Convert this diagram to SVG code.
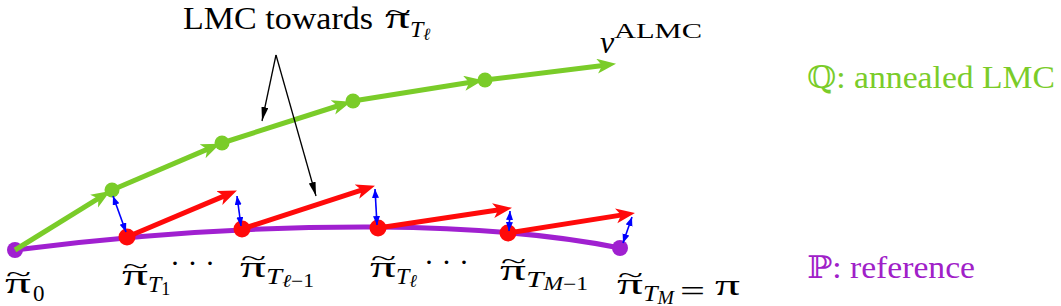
<svg xmlns="http://www.w3.org/2000/svg" width="1061" height="306" viewBox="0 0 1061 306">
<style>
.t{font-family:"Liberation Serif","DejaVu Serif",serif;fill:#000}
.m{font-family:"Liberation Serif","DejaVu Serif",serif;font-style:italic;fill:#000}
.p{font-family:"Liberation Serif","DejaVu Serif",serif;font-style:normal;fill:#000}
.tl{font-family:"Liberation Serif","DejaVu Serif",serif;fill:#000;font-size:22px}
.ds{font-family:"DejaVu Serif","DejaVu Sans",serif;font-style:normal}
.g{stroke:#7acc29;stroke-width:5;fill:none}
.r{stroke:#ff0a0a;stroke-width:5;fill:none}
.b{stroke:#0000ff;stroke-width:1.6;fill:none}
.k{stroke:#000;stroke-width:1.3;fill:none}
</style>
<defs>
<marker id="ag" markerUnits="userSpaceOnUse" markerWidth="22" markerHeight="16" refX="8" refY="7.5" orient="auto"><path d="M0,0 L19,7.5 L0,15 L5,7.5 z" fill="#7acc29"/></marker>
<marker id="ar" markerUnits="userSpaceOnUse" markerWidth="22" markerHeight="16" refX="8" refY="7.5" orient="auto"><path d="M0,0 L19,7.5 L0,15 L5,7.5 z" fill="#ff0a0a"/></marker>
<marker id="ab" markerUnits="userSpaceOnUse" markerWidth="10" markerHeight="8" refX="9" refY="3.5" orient="auto-start-reverse"><path d="M0,0 L9,3.5 L0,7 z" fill="#0000ff"/></marker>
<marker id="ak" markerUnits="userSpaceOnUse" markerWidth="16" markerHeight="8" refX="14" refY="3.5" orient="auto"><path d="M0,0 L14,3.5 L0,7 z" fill="#000"/></marker>
</defs>

<g id="reference-curve">
<path d="M15,250 Q200,226 378,227 Q520,228 620,248" stroke="#a020d0" stroke-width="5" fill="none"/>
<circle cx="15" cy="250" r="8" fill="#a020d0"/>
<circle cx="620" cy="248" r="8" fill="#a020d0"/>
</g>

<g id="connectors">
<line class="g" x1="15" y1="250" x2="100.9" y2="196.8" marker-end="url(#ag)"/>
<line class="g" x1="112" y1="190" x2="210" y2="148.1" marker-end="url(#ag)"/>
<line class="g" x1="222" y1="143" x2="340.6" y2="105" marker-end="url(#ag)"/>
<line class="g" x1="353" y1="101" x2="472.2" y2="82" marker-end="url(#ag)"/>
<line class="g" x1="485" y1="80" x2="605.1" y2="65.2" marker-end="url(#ag)"/>
<line class="r" x1="127" y1="237" x2="226.8" y2="194.9" marker-end="url(#ar)"/>
<line class="r" x1="242" y1="229" x2="364.5" y2="189.1" marker-end="url(#ar)"/>
<line class="r" x1="378" y1="228" x2="501.1" y2="209.5" marker-end="url(#ar)"/>
<line class="r" x1="508" y1="233" x2="624.1" y2="214.6" marker-end="url(#ar)"/>
</g>

<g id="green-dots" fill="#7acc29">
<circle cx="112" cy="190" r="7.5"/>
<circle cx="222" cy="143" r="7.5"/>
<circle cx="353" cy="101" r="7.5"/>
<circle cx="485" cy="80" r="7.5"/>
</g>
<g id="red-dots" fill="#ff0a0a">
<circle cx="127" cy="237" r="8.5"/>
<circle cx="242" cy="229" r="8.5"/>
<circle cx="378" cy="228" r="8.5"/>
<circle cx="508" cy="233" r="8.5"/>
</g>

<g id="coupling-arrows">
<line class="b" x1="113" y1="196" x2="126" y2="232" marker-start="url(#ab)" marker-end="url(#ab)"/>
<line class="b" x1="237" y1="196" x2="241" y2="226" marker-start="url(#ab)" marker-end="url(#ab)"/>
<line class="b" x1="375" y1="189" x2="377" y2="225" marker-start="url(#ab)" marker-end="url(#ab)"/>
<line class="b" x1="510" y1="211" x2="509" y2="231" marker-start="url(#ab)" marker-end="url(#ab)"/>
<line class="b" x1="632" y1="217" x2="623" y2="243" marker-start="url(#ab)" marker-end="url(#ab)"/>
</g>

<g id="pointers">
<line class="k" x1="276" y1="55" x2="262" y2="121" marker-end="url(#ak)"/>
<line class="k" x1="276" y1="55" x2="316" y2="196" marker-end="url(#ak)"/>
</g>

<g id="title">
<text class="t" x="183" y="29" font-size="31" textLength="190" lengthAdjust="spacingAndGlyphs">LMC towards</text>
<text class="tl" x="386" y="19" textLength="25" lengthAdjust="spacingAndGlyphs">~</text>
<text class="p" x="385" y="28" font-size="30" textLength="25" lengthAdjust="spacingAndGlyphs">π</text>
<text class="m" x="410" y="37" font-size="24">T<tspan font-size="17" dy="3">ℓ</tspan></text>
</g>

<g id="nu-label">
<text class="m" x="600" y="53" font-size="32">ν</text>
<text class="t" x="614" y="38" font-size="21" textLength="88" lengthAdjust="spacingAndGlyphs">ALMC</text>
</g>

<g id="legend-Q">
<text class="t" x="807" y="88" font-size="31" style="fill:#7acc29" textLength="248" lengthAdjust="spacingAndGlyphs"><tspan class="ds">ℚ</tspan>: annealed LMC</text>
</g>
<g id="legend-P">
<text class="t" x="807" y="278" font-size="31" style="fill:#a020c8" textLength="168" lengthAdjust="spacingAndGlyphs"><tspan class="ds">ℙ</tspan>: reference</text>
</g>

<g id="label-pi0">
<text class="tl" x="6" y="281" textLength="25" lengthAdjust="spacingAndGlyphs">~</text>
<text class="p" x="5" y="293" font-size="30" textLength="26" lengthAdjust="spacingAndGlyphs">π</text>
<text class="t" x="33" y="301" font-size="23">0</text>
</g>
<g id="label-piT1">
<text class="tl" x="123" y="273" textLength="25" lengthAdjust="spacingAndGlyphs">~</text>
<text class="p" x="122" y="285" font-size="30" textLength="26" lengthAdjust="spacingAndGlyphs">π</text>
<text class="m" x="148" y="292" font-size="24">T<tspan class="t" font-style="normal" font-size="18" dy="3">1</tspan></text>
<text class="t" x="170" y="273" font-size="30">· · ·</text>
</g>
<g id="label-piTl-1">
<text class="tl" x="241" y="265" textLength="25" lengthAdjust="spacingAndGlyphs">~</text>
<text class="p" x="240" y="277" font-size="30" textLength="26" lengthAdjust="spacingAndGlyphs">π</text>
<text class="m" x="266" y="284" font-size="24" textLength="48" lengthAdjust="spacingAndGlyphs">T<tspan font-size="18" dy="3">ℓ</tspan><tspan class="t" font-style="normal" font-size="18">−1</tspan></text>
</g>
<g id="label-piTl">
<text class="tl" x="371" y="265" textLength="25" lengthAdjust="spacingAndGlyphs">~</text>
<text class="p" x="370" y="277" font-size="30" textLength="26" lengthAdjust="spacingAndGlyphs">π</text>
<text class="m" x="396" y="284" font-size="24">T<tspan font-size="18" dy="3">ℓ</tspan></text>
<text class="t" x="424" y="272" font-size="30">· · ·</text>
</g>
<g id="label-piTM-1">
<text class="tl" x="501" y="268" textLength="25" lengthAdjust="spacingAndGlyphs">~</text>
<text class="p" x="500" y="280" font-size="30" textLength="26" lengthAdjust="spacingAndGlyphs">π</text>
<text class="m" x="526" y="287" font-size="24" textLength="62" lengthAdjust="spacingAndGlyphs">T<tspan font-size="18" dy="3">M</tspan><tspan class="t" font-style="normal" font-size="18">−1</tspan></text>
</g>
<g id="label-piTM">
<text class="tl" x="618" y="282" textLength="25" lengthAdjust="spacingAndGlyphs">~</text>
<text class="p" x="617" y="294" font-size="30" textLength="26" lengthAdjust="spacingAndGlyphs">π</text>
<text class="m" x="643" y="301" font-size="24" textLength="31" lengthAdjust="spacingAndGlyphs">T<tspan font-size="18" dy="3">M</tspan></text>
<text class="t" x="680" y="301" font-size="30" textLength="25" lengthAdjust="spacingAndGlyphs">=</text>
<text class="p" x="715" y="295" font-size="30" textLength="25" lengthAdjust="spacingAndGlyphs">π</text>
</g>
</svg>
